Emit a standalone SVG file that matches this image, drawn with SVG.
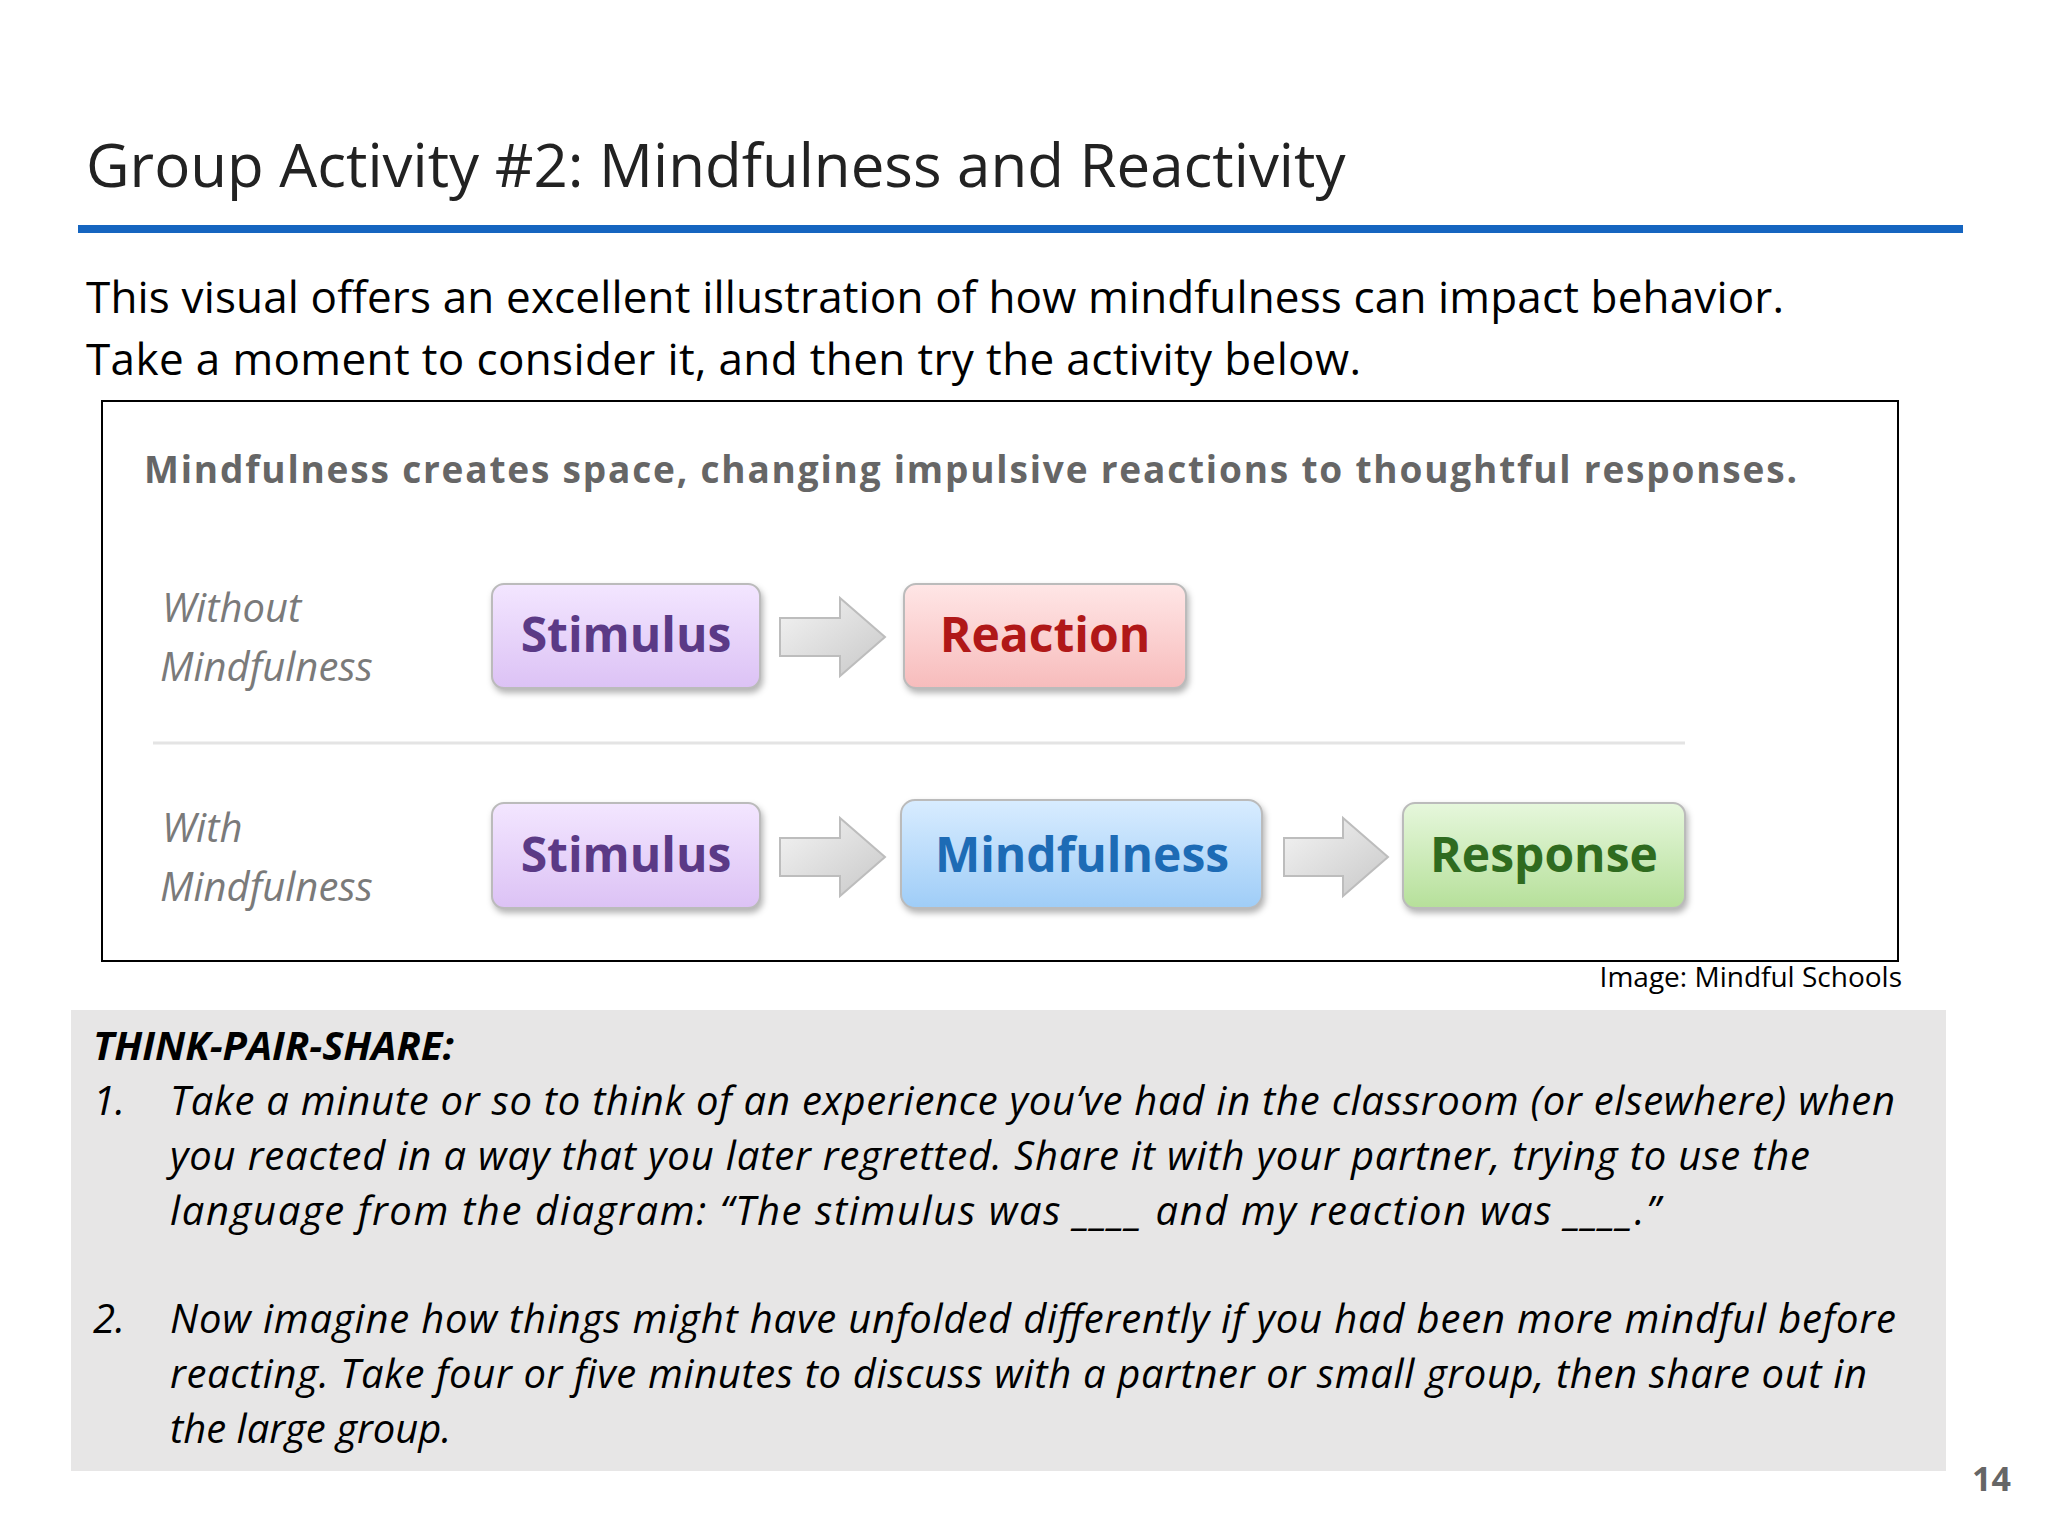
<svg xmlns="http://www.w3.org/2000/svg" width="2048" height="1536" viewBox="0 0 2048 1536">
<defs>
<linearGradient id="gp" x1="0" y1="0" x2="0" y2="1"><stop offset="0" stop-color="#f3e6ff"/><stop offset="1" stop-color="#dcc2f5"/></linearGradient>
<linearGradient id="gr" x1="0" y1="0" x2="0" y2="1"><stop offset="0" stop-color="#ffe6e6"/><stop offset="1" stop-color="#f7bcbc"/></linearGradient>
<linearGradient id="gb" x1="0" y1="0" x2="0" y2="1"><stop offset="0" stop-color="#d8ecff"/><stop offset="1" stop-color="#9fcdf7"/></linearGradient>
<linearGradient id="gg" x1="0" y1="0" x2="0" y2="1"><stop offset="0" stop-color="#e6f7dc"/><stop offset="1" stop-color="#b6e09a"/></linearGradient>
<linearGradient id="ga" x1="0" y1="0" x2="1" y2="1"><stop offset="0" stop-color="#f4f4f4"/><stop offset="1" stop-color="#c8c8c8"/></linearGradient>
</defs>
<style>
.s{font-family:"Open Sans","Liberation Sans",sans-serif}
.lab{font-family:"Open Sans","Liberation Sans",sans-serif;font-style:italic;fill:#7a7a7a;font-size:40px}
.bx{font-family:"Open Sans","Liberation Sans",sans-serif;font-weight:bold;font-size:48px;text-anchor:middle}
.it{font-family:"Open Sans","Liberation Sans",sans-serif;font-style:italic;font-size:40px;fill:#000}
.box{stroke:#bbb;stroke-width:2;filter:drop-shadow(2px 4px 3px rgba(0,0,0,0.3))}
</style>
<rect width="2048" height="1536" fill="#fff"/>
<text class="s" x="86" y="187" font-size="60" fill="#222">Group Activity #2: Mindfulness and Reactivity</text>
<rect x="78" y="225" width="1885" height="8" fill="#1565c0"/>
<text class="s" x="86" y="313" font-size="44" fill="#000" textLength="1698">This visual offers an excellent illustration of how mindfulness can impact behavior.</text>
<text class="s" x="86" y="375" font-size="44" fill="#000" textLength="1275">Take a moment to consider it, and then try the activity below.</text>
<rect x="102" y="401" width="1796" height="560" fill="#fff" stroke="#000" stroke-width="2"/>
<text class="s" x="144" y="483" font-size="37" font-weight="bold" fill="#666" textLength="1653">Mindfulness creates space, changing impulsive reactions to thoughtful responses.</text>
<text class="lab" x="162" y="622">Without</text>
<text class="lab" x="160" y="681">Mindfulness</text>
<line x1="153" y1="743" x2="1685" y2="743" stroke="#e4e4e4" stroke-width="3"/>
<text class="lab" x="162" y="842">With</text>
<text class="lab" x="160" y="901">Mindfulness</text>
<g id="n1"><rect class="box" x="492" y="584" width="268" height="104" rx="12" fill="url(#gp)"/><text class="bx" x="626" y="652" fill="#5b3a86">Stimulus</text></g>
<g id="n2"><rect class="box" x="904" y="584" width="282" height="104" rx="12" fill="url(#gr)"/><text class="bx" x="1045" y="652" fill="#b01818">Reaction</text></g>
<g id="n3"><rect class="box" x="492" y="803" width="268" height="105" rx="12" fill="url(#gp)"/><text class="bx" x="626" y="872" fill="#5b3a86">Stimulus</text></g>
<g id="n4"><rect class="box" x="901" y="800" width="361" height="108" rx="14" fill="url(#gb)" stroke="#4a90d9"/><text class="bx" x="1082" y="872" fill="#1d6bb5">Mindfulness</text></g>
<g id="n5"><rect class="box" x="1403" y="803" width="282" height="105" rx="12" fill="url(#gg)"/><text class="bx" x="1544" y="872" fill="#2f6b1f">Response</text></g>
<g id="connectors" fill="url(#ga)" stroke="#bdbdbd" stroke-width="2">
<polygon points="780,618 840,618 840,598 885,637 840,676 840,656 780,656"/>
<polygon points="780,838 840,838 840,818 885,857 840,896 840,876 780,876"/>
<polygon points="1284,838 1343,838 1343,818 1388,857 1343,896 1343,876 1284,876"/>
</g>
<text class="s" x="1902" y="987" font-size="28" text-anchor="end" fill="#000">Image: Mindful Schools</text>
<rect x="71" y="1010" width="1875" height="461" fill="#e7e6e6"/>
<text class="it" x="93" y="1060" font-weight="bold" font-size="38">THINK-PAIR-SHARE:</text>
<text class="it" x="93" y="1115">1.</text>
<text class="it" x="170" y="1115" textLength="1725">Take a minute or so to think of an experience you’ve had in the classroom (or elsewhere) when</text>
<text class="it" x="170" y="1170" textLength="1640">you reacted in a way that you later regretted. Share it with your partner, trying to use the</text>
<text class="it" x="170" y="1225" textLength="1490">language from the diagram: “The stimulus was ____ and my reaction was ____.”</text>
<text class="it" x="93" y="1333">2.</text>
<text class="it" x="170" y="1333" textLength="1726">Now imagine how things might have unfolded differently if you had been more mindful before</text>
<text class="it" x="170" y="1388" textLength="1697">reacting. Take four or five minutes to discuss with a partner or small group, then share out in</text>
<text class="it" x="170" y="1443">the large group.</text>
<text class="s" x="2011" y="1491" font-size="34" font-weight="bold" fill="#666" text-anchor="end">14</text>
</svg>
